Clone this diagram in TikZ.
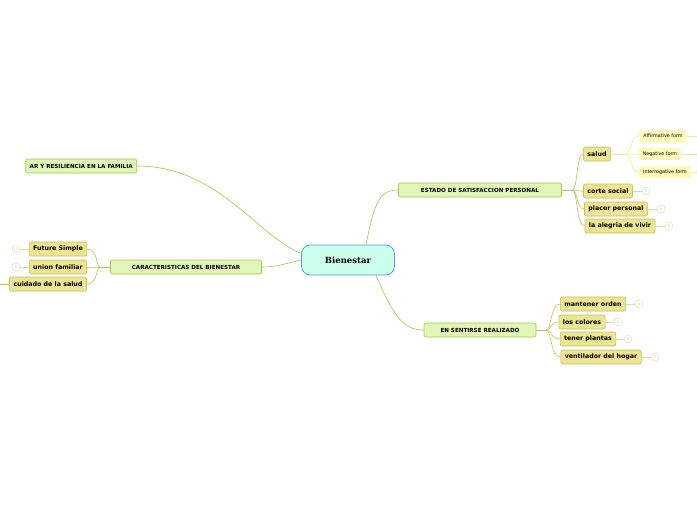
\documentclass[tikz,border=0pt]{standalone}
\usepackage{fontspec}
\setmainfont{DejaVu Sans}
\begin{document}
\begin{tikzpicture}[x=1pt,y=-1pt,
 main/.style={draw=mgreen,fill=mfill,rounded corners=2pt,font=\bfseries\fontsize{5.6}{6}\selectfont,minimum height=14pt,inner xsep=4pt,inner ysep=0pt,line width=0.6pt},
 sub/.style={draw=sborder,fill=sfill,rounded corners=2pt,font=\bfseries\fontsize{6.3}{7}\selectfont,minimum height=14pt,inner xsep=4pt,inner ysep=0pt,line width=0.6pt},
 leaf/.style={fill=lfill,rounded corners=2pt,font=\fontsize{4.8}{5}\selectfont,minimum height=12pt,inner xsep=4pt,inner ysep=0pt},
 cnt/.style={circle,draw=cborder,fill=white,inner sep=0pt,minimum size=8pt,font=\fontsize{4}{4}\selectfont,text=cborder},
 mline/.style={draw=mgreen,line width=0.6pt},
 sline/.style={draw=sborder,line width=0.6pt},
 lline/.style={draw=lline,line width=0.6pt}]
\definecolor{mgreen}{HTML}{9CCC3C}
\definecolor{mfill}{HTML}{E2F5B8}
\definecolor{sborder}{HTML}{C8BE5A}
\definecolor{sfill}{HTML}{EDE594}
\definecolor{lfill}{HTML}{FFFABA}
\definecolor{lline}{HTML}{F5EC8C}
\definecolor{cborder}{HTML}{DDD8A8}
\useasboundingbox[fill=white] (0,0) rectangle (697,520);
\node[draw=cyan!60!blue!70,fill=green!40!cyan!20,rounded corners=9pt,minimum width=93pt,minimum height=30pt,font=\rmfamily\bfseries\fontsize{8.5}{9}\selectfont,line width=0.7pt] (root) at (348,260) {\fontspec{DejaVu Serif}Bienestar};
\node[main,minimum width=163pt] (est) at (480,190) {ESTADO DE SATISFACCION PERSONAL};
\node[main,minimum width=112pt] (real) at (480,330) {EN SENTIRSE REALIZADO};
\node[main,minimum width=151pt] (car) at (186,267) {CARACTERISTICAS DEL BIENESTAR};
\node[main,anchor=east] (fam) at (137,166) {AR Y RESILIENCIA EN LA FAMILIA};
\draw[mline] (root.north) ++(18,0) .. controls (375,200) and (380,190) .. (est.west);
\draw[mline] (root.south) ++(28,0) .. controls (395,320) and (405,330) .. (real.west);
\draw[mline] (root.west) .. controls (280,265) and (275,267) .. (car.east);
\draw[mline] (root.west) ++(2,-6) .. controls (260,240) and (220,166) .. (fam.east);
% sub nodes
\node[sub] (salud) at (597,154) {salud};
\node[sub] (corte) at (608,191) {corte social};
\node[sub] (placer) at (616,209) {placer personal};
\node[sub] (alegria) at (620,226) {la alegria de vivir};
\node[sub] (orden) at (593,304) {mantener orden};
\node[sub] (colores) at (582,322) {los colores};
\node[sub] (plantas) at (588,339) {tener plantas};
\node[sub] (vent) at (601,357) {ventilador del hogar};
\node[sub] (fut) at (58,249) {Future Simple};
\node[sub] (union) at (58,267) {union familiar};
\node[sub] (cuid) at (48,284) {cuidado de la salud};
\coordinate (eR) at (572,190);
\draw[sline] (est.east) -- (eR);
\foreach \n in {salud,corte,placer,alegria}{\draw[sline] (eR) .. controls (578,190) and (576,0|-\n.west) .. (\n.west);}
\coordinate (rR) at (546,330);
\draw[sline] (real.east) -- (rR);
\foreach \n in {orden,colores,plantas,vent}{\draw[sline] (rR) .. controls (552,330) and (550,0|-\n.west) .. (\n.west);}
\coordinate (cL) at (100,267);
\draw[sline] (car.west) -- (cL);
\foreach \n in {fut,union,cuid}{\draw[sline] (cL) .. controls (96,267) and (98,0|-\n.east) .. (\n.east);}
\draw[sline] (cuid.west) -- (0,284);
% leaves
\node[leaf] (aff) at (663,136) {Affirmative form};
\node[leaf] (neg) at (660,154) {Negative form};
\node[leaf] (int) at (665,172) {Interrogative form};
\coordinate (sR) at (625,154);
\draw[lline] (salud.east) -- (sR);
\foreach \n in {aff,neg,int}{\draw[lline] (sR) .. controls (632,154) and (630,0|-\n.west) .. (\n.west);}
\draw[lline] (aff.east) -- (697,136);
\draw[lline] (neg.east) -- (697,154);
\draw[lline] (int.east) -- (697,172);
% counters
\foreach \n/\x/\t in {corte/646/6,placer/661/6,alegria/669/6,orden/639/6,colores/618/6,plantas/628/6,vent/655/6}{
 \node[cnt] (c\n) at (\x,0|-\n.east) {\t};
 \draw[sline,draw=cborder] (\n.east) -- (c\n);}
\node[cnt] (cfut) at (16,249) {14};
\draw[draw=cborder,line width=0.6pt] (fut.west) -- (cfut);
\node[cnt] (cunion) at (16,267) {6};
\draw[draw=cborder,line width=0.6pt] (union.west) -- (cunion);
\end{tikzpicture}
\end{document}
